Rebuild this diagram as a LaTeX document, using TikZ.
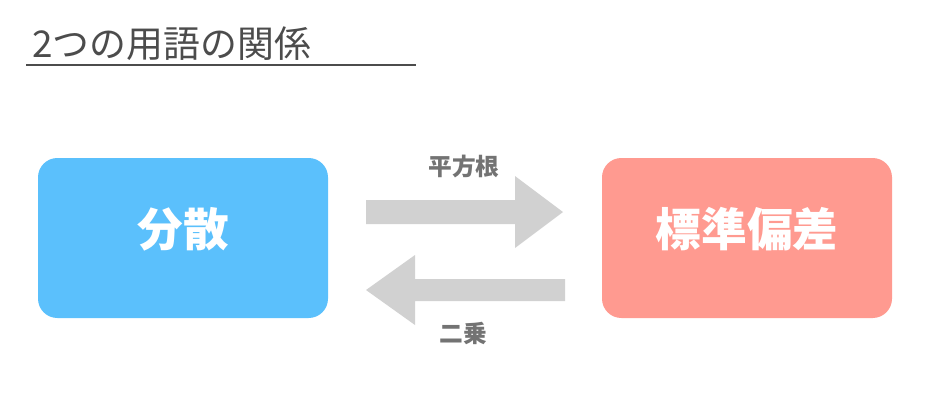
\documentclass[tikz,border=0pt]{standalone}
\usepackage{fontspec}
\newfontfamily\cjk{Noto Sans CJK JP}
\definecolor{bluebox}{RGB}{91,192,252}
\definecolor{redbox}{RGB}{255,154,144}
\begin{document}
\begin{tikzpicture}[x=0.02cm,y=-0.02cm,
  box/.style={rounded corners=11pt,minimum width=290*0.02cm,minimum height=160*0.02cm,inner sep=0pt,fill=#1},
  txt/.style={text=white,font=\cjk\bfseries\fontsize{26}{30}\selectfont},
  lab/.style={text=black!55,font=\cjk\bfseries\fontsize{13.5}{16}\selectfont},
  arr/.style={fill=black!18}]
\useasboundingbox (0,0) rectangle (940,413);
\node[font=\cjk\fontsize{21}{25}\selectfont,text=black!70,anchor=west] (t) at (26,44) {2つの用語の関係};
\draw[black!70,line width=1.2pt] (26,65) -- (416,65);
\node[box=bluebox] (a) at (183,238) {};
\node[box=redbox] (b) at (747,238) {};
\node[txt] (at) at (183,229) {分散};
\node[txt] (bt) at (747,229) {標準偏差};
\fill[arr] (366,200) -- (515,200) -- (515,176) -- (563,212) -- (515,248) -- (515,224) -- (366,224) -- cycle;
\fill[arr] (565,279) -- (415,279) -- (415,255) -- (366,290) -- (415,325) -- (415,301) -- (565,301) -- cycle;
\node[lab] (u) at (464,167) {平方根};
\node[lab] (d) at (463,333) {二乗};
\end{tikzpicture}
\end{document}
